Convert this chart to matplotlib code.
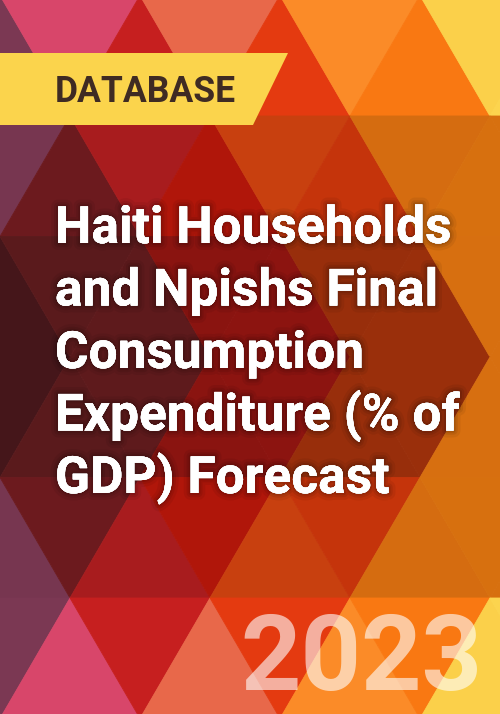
import matplotlib
matplotlib.use("Agg")
import matplotlib.pyplot as plt
from matplotlib.patches import Polygon
import matplotlib.patheffects as pe

# ---- data: triangle colours per row (rows 3-5 mirror rows 2-0) ----
row0_colors = ["#7b3853", "#d8466a", "#c61f1f", "#e8684a", "#e43a10",
               "#fb8b28", "#f97812", "#fbd04a", "#fcd44e"]
row1_colors = ["#773650", "#6c1a1e", "#a81c1e", "#b0160a", "#c8400f",
               "#c5340b", "#d56c10", "#d7700f", "#d7700f"]
row2_colors = ["#45161a", "#5a1a1c", "#5e1a1c", "#8a1410", "#8c1410",
               "#982e0b", "#9a2f0b", "#d76f10", "#d76f10"]
rows_colors = [row0_colors, row1_colors, row2_colors,
               row2_colors, row1_colors, row0_colors]

banner_label = "DATABASE"
title_lines = ["Haiti Households", "and Npishs Final", "Consumption",
               "Expenditure (% of", "GDP) Forecast"]
year_label = "2023"

# ---- figure ----
W, H = 500, 714
fig = plt.figure(figsize=(W / 100, H / 100), dpi=100)
ax = fig.add_axes([0, 0, 1, 1])
ax.set_xlim(0, W)
ax.set_ylim(H, 0)
ax.axis("off")

row_h = 120.5
half_w = 70
y_start = 116 - row_h
for r, colors in enumerate(rows_colors):
    ytop = y_start + r * row_h
    ybot = ytop + row_h
    for j, c in enumerate(colors):
        xc = j * half_w
        if (j + r) % 2 == 0:  # apex at top
            pts = [(xc, ytop), (xc - half_w, ybot), (xc + half_w, ybot)]
        else:
            pts = [(xc, ybot), (xc - half_w, ytop), (xc + half_w, ytop)]
        ax.add_patch(Polygon(pts, closed=True, facecolor=c, edgecolor=c,
                             linewidth=0.6, zorder=1))

# banner
ax.add_patch(Polygon([(0, 53), (288, 53), (253, 125), (0, 125)], closed=True,
                     facecolor="#fbd44c", edgecolor="none", zorder=3))
ax.text(55, 102, banner_label, fontsize=25.6, fontweight="bold", family="Roboto",
        color="#3f2b23", va="baseline", ha="left", zorder=4)

# title
glow = [pe.withStroke(linewidth=10, foreground=(0, 0, 0, 0.06)),
        pe.withStroke(linewidth=6, foreground=(0, 0, 0, 0.08)),
        pe.withStroke(linewidth=3, foreground=(0, 0, 0, 0.10)),
        pe.Normal()]
base0 = 243
step = 62.5
for i, line in enumerate(title_lines):
    ax.text(55, base0 + i * step, line, fontsize=37, fontweight="bold",
            family="Roboto", color="white", va="baseline", ha="left",
            zorder=5, path_effects=glow)

# year
ax.text(240, 690, year_label, fontsize=76, fontweight="bold", family="Roboto",
        color=(1, 1, 1, 0.6), va="baseline", ha="left", zorder=5)

fig.savefig("out.png", dpi=100)
